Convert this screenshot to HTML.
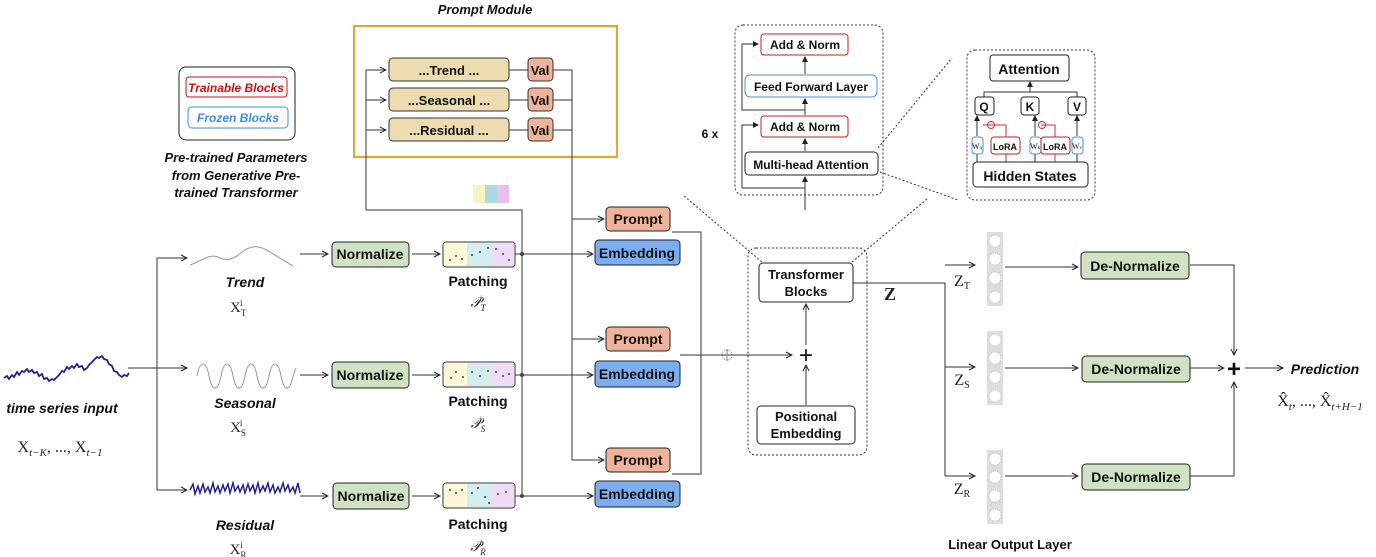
<!DOCTYPE html>
<html><head><meta charset="utf-8"><style>
html,body{margin:0;padding:0;background:#fff;}
svg{display:block;font-family:"Liberation Sans",sans-serif;}
.b{font-weight:bold;}
.s{font-family:"Liberation Serif",serif;}
</style></head><body>
<svg width="1376" height="557" viewBox="0 0 1376 557" xmlns="http://www.w3.org/2000/svg">
<defs>
<marker id="a" markerWidth="8" markerHeight="8" refX="7" refY="4" orient="auto" markerUnits="userSpaceOnUse"><path d="M1,1 L7,4 L1,7" fill="none" stroke="#222" stroke-width="1"/></marker>
<marker id="f" markerWidth="6" markerHeight="6" refX="5" refY="3" orient="auto" markerUnits="userSpaceOnUse"><path d="M0,0 L6,3 L0,6z" fill="#222"/></marker>
</defs>
<g stroke="#333" stroke-width="1" fill="none">
<rect x="354" y="26" width="263" height="131" stroke="#f0a030" stroke-width="2"/>
<path d="M366,210 V70 M366,70 H386" marker-end="url(#a)"/>
<path d="M366,100 H386" marker-end="url(#a)"/><path d="M366,130 H386" marker-end="url(#a)"/>
<path d="M366,210 H522 V496"/>
<path d="M509,70 H528 M509,100 H528 M509,130 H528 M553,70 H572 M553,100 H572 M553,130 H572 M572,70 V460"/>
<path d="M572,219 H604" marker-end="url(#a)"/>
<path d="M572,339 H604" marker-end="url(#a)"/>
<path d="M572,460 H604" marker-end="url(#a)"/>
<path d="M128,368 H187" marker-end="url(#a)"/>
<path d="M186,258 H157 V490 H187" /><path d="M157,258 H187" marker-end="url(#a)"/><path d="M157,490 H187" marker-end="url(#a)"/>
<path d="M300,254 H328" marker-end="url(#a)"/><path d="M300,375 H328" marker-end="url(#a)"/><path d="M300,496 H328" marker-end="url(#a)"/>
<path d="M412,254 H440" marker-end="url(#a)"/><path d="M412,375 H440" marker-end="url(#a)"/><path d="M412,496 H440" marker-end="url(#a)"/>
<path d="M515,254 H593" marker-end="url(#a)"/><path d="M515,375 H593" marker-end="url(#a)"/><path d="M515,496 H593" marker-end="url(#a)"/>
<path d="M672,232 H701 V474 H672 M680,355 H701"/>
<path d="M680,355 H792" marker-end="url(#a)"/>
<circle cx="727" cy="355" r="5" stroke="#888" stroke-dasharray="1,1"/><path d="M727,349 V361" stroke="#888"/>
<path d="M806,405 V365" marker-end="url(#a)"/>
<path d="M806,345 V304" marker-end="url(#a)"/>
<rect x="748" y="248" width="119" height="207" rx="8" stroke-dasharray="2,2"/>
<path d="M684,196 L762,262 M927,199 L852,262" stroke-dasharray="2,2"/>
<path d="M853,283 H945 V476" />
<path d="M945,265 H975" marker-end="url(#a)"/><path d="M945,367 H975" marker-end="url(#a)"/><path d="M945,476 H975" marker-end="url(#a)"/>
<path d="M1005,267 H1078" marker-end="url(#a)"/><path d="M1005,368 H1078" marker-end="url(#a)"/><path d="M1005,476 H1078" marker-end="url(#a)"/>
<path d="M1190,265 H1234 V355" marker-end="url(#a)"/>
<path d="M1190,476 H1234 V382" marker-end="url(#a)"/>
<path d="M1190,368 H1224" marker-end="url(#a)"/>
<path d="M1245,368 H1283" marker-end="url(#a)"/>
<rect x="735" y="25" width="148" height="170" rx="8" stroke-dasharray="2,2"/>
<path d="M805,210 V177" marker-end="url(#f)"/>
<path d="M805,151 V139" marker-end="url(#f)"/>
<path d="M805,115 V99" marker-end="url(#f)"/>
<path d="M805,74 V57" marker-end="url(#f)"/>
<path d="M805,188 H742 V125 H758" marker-end="url(#f)"/>
<path d="M805,110 H742 V44 H758" marker-end="url(#f)"/>
<path d="M878,148 L952,58 M880,172 L958,200" stroke-dasharray="2,2"/>
<rect x="967" y="50" width="128" height="150" rx="8" stroke-dasharray="2,2"/>
<path d="M984,97 V92 H1077 V97" />
<path d="M1030,92 V82" marker-end="url(#f)"/>
<path d="M977,136 V116" marker-end="url(#f)"/>
<path d="M1035,136 V116" marker-end="url(#f)"/>
<path d="M1077,136 V116" marker-end="url(#f)"/>
<path d="M977,162 V154 M1035,162 V154 M1077,162 V154"/>
<g stroke="#d03030"><path d="M1006,162 V154 M1006,137 V125 H983 M1055,162 V154 M1055,137 V125 H1041"/>
<circle cx="991" cy="125" r="3.5"/><circle cx="1042" cy="125" r="3.5"/></g>
</g>
<rect x="179" y="67" width="116" height="73" rx="7" fill="none" stroke="#222"/>
<rect x="186" y="77" width="101" height="20" rx="3" fill="none" stroke="#d01010"/>
<text x="236" y="92" text-anchor="middle" font-size="12" font-style="italic" class="b" fill="#d01010">Trainable Blocks</text>
<rect x="188" y="107" width="100" height="21" rx="4" fill="none" stroke="#3c8ee8"/>
<text x="238" y="122" text-anchor="middle" font-size="12" font-style="italic" class="b" fill="#3c8ee8">Frozen Blocks</text>
<g font-size="13" font-style="italic" class="b" text-anchor="middle" fill="#111">
<text x="236" y="162">Pre-trained Parameters</text>
<text x="236" y="180">from Generative Pre-</text>
<text x="236" y="197">trained Transformer</text>
<text x="485" y="14">Prompt Module</text>
</g>
<rect x="473" y="185" width="12" height="18" fill="#f8f4c0"/><rect x="485" y="185" width="12" height="18" fill="#a8dce0"/><rect x="497" y="185" width="12" height="18" fill="#e8c0f0"/>
<g font-size="13" class="b" text-anchor="middle" fill="#111">
<rect x="389" y="58" width="120" height="23" rx="4" fill="#ecdcb0" stroke="#333"/><text x="449" y="75">...Trend ...</text>
<rect x="389" y="88" width="120" height="23" rx="4" fill="#ecdcb0" stroke="#333"/><text x="449" y="105">...Seasonal ...</text>
<rect x="389" y="118" width="120" height="23" rx="4" fill="#ecdcb0" stroke="#333"/><text x="449" y="135">...Residual ...</text>
<rect x="528" y="58" width="25" height="23" rx="4" fill="#eeb39a" stroke="#333"/><text x="540" y="75">Val</text>
<rect x="528" y="88" width="25" height="23" rx="4" fill="#eeb39a" stroke="#333"/><text x="540" y="105">Val</text>
<rect x="528" y="118" width="25" height="23" rx="4" fill="#eeb39a" stroke="#333"/><text x="540" y="135">Val</text>
</g>
<g font-size="14" class="b" text-anchor="middle" fill="#111">
<rect x="332" y="242" width="77" height="25" rx="4" fill="#cfe3c4" stroke="#222"/><text x="370" y="259">Normalize</text>
<rect x="332" y="362" width="77" height="26" rx="4" fill="#cfe3c4" stroke="#222"/><text x="370" y="380">Normalize</text>
<rect x="333" y="483" width="76" height="26" rx="4" fill="#cfe3c4" stroke="#222"/><text x="371" y="501">Normalize</text>
<rect x="606" y="207" width="64" height="24" rx="4" fill="#eeb39a" stroke="#222"/><text x="638" y="224">Prompt</text>
<rect x="606" y="327" width="64" height="24" rx="4" fill="#eeb39a" stroke="#222"/><text x="638" y="344">Prompt</text>
<rect x="606" y="448" width="64" height="24" rx="4" fill="#eeb39a" stroke="#222"/><text x="638" y="465">Prompt</text>
<rect x="595" y="240" width="85" height="25" rx="4" fill="#7aaef0" stroke="#222"/><text x="637" y="258">Embedding</text>
<rect x="595" y="361" width="85" height="26" rx="4" fill="#7aaef0" stroke="#222"/><text x="637" y="379">Embedding</text>
<rect x="595" y="481" width="85" height="26" rx="4" fill="#7aaef0" stroke="#222"/><text x="637" y="499">Embedding</text>
<rect x="1081" y="252" width="108" height="27" rx="4" fill="#cfe3c4" stroke="#222"/><text x="1135" y="271">De-Normalize</text>
<rect x="1082" y="356" width="108" height="26" rx="4" fill="#cfe3c4" stroke="#222"/><text x="1136" y="374">De-Normalize</text>
<rect x="1082" y="464" width="108" height="26" rx="4" fill="#cfe3c4" stroke="#222"/><text x="1136" y="482">De-Normalize</text>
</g>
<g id="pt">
<rect x="443" y="242" width="72" height="25" rx="3" fill="#fff" stroke="#333"/>
<rect x="444" y="243" width="23" height="23" fill="#fbf7d8"/><rect x="467" y="243" width="24" height="23" fill="#d4eef0"/><rect x="491" y="243" width="23" height="23" fill="#f0dcf6"/>
</g>
<use href="#pt" y="120"/><use href="#pt" y="241"/>
<g fill="#444"><circle cx="450" cy="260" r="1"/><circle cx="456" cy="256" r="1"/><circle cx="462" cy="259" r="1"/><circle cx="472" cy="255" r="1"/><circle cx="480" cy="252" r="1"/><circle cx="488" cy="248" r="1"/><circle cx="496" cy="249" r="1"/><circle cx="503" cy="254" r="1"/><circle cx="509" cy="260" r="1"/>
<circle cx="451" cy="378" r="1"/><circle cx="456" cy="372" r="1"/><circle cx="463" cy="377" r="1"/><circle cx="472" cy="372" r="1"/><circle cx="480" cy="376" r="1"/><circle cx="488" cy="371" r="1"/><circle cx="496" cy="372" r="1"/><circle cx="503" cy="376" r="1"/><circle cx="509" cy="374" r="1"/>
<circle cx="450" cy="490" r="1"/><circle cx="456" cy="493" r="1"/><circle cx="462" cy="490" r="1"/><circle cx="472" cy="493" r="1"/><circle cx="478" cy="488" r="1"/><circle cx="485" cy="497" r="1"/><circle cx="489" cy="503" r="1"/><circle cx="498" cy="494" r="1"/><circle cx="506" cy="492" r="1"/>
<circle cx="522" cy="254" r="2"/><circle cx="522" cy="375" r="2"/><circle cx="522" cy="496" r="2"/></g>
<g font-size="14" class="b" text-anchor="middle" fill="#111">
<text x="478" y="286">Patching</text><text x="478" y="406">Patching</text><text x="478" y="529">Patching</text>
</g>
<g font-size="14" font-style="italic" class="b" text-anchor="middle" fill="#111">
<text x="245" y="287">Trend</text><text x="245" y="408">Seasonal</text><text x="245" y="530">Residual</text>
<text x="62" y="413">time series input</text>
<text x="1325" y="374">Prediction</text>
</g>
<g class="s" font-size="15" fill="#222" text-anchor="middle">
<text x="238" y="312">X<tspan font-size="9" dy="4">T</tspan><tspan font-size="9" dx="-6" dy="-10">i</tspan></text>
<text x="238" y="432">X<tspan font-size="9" dy="4">S</tspan><tspan font-size="9" dx="-6" dy="-10">i</tspan></text>
<text x="238" y="554">X<tspan font-size="9" dy="4">R</tspan><tspan font-size="9" dx="-6" dy="-10">i</tspan></text>
<text x="478" y="307" font-style="italic" font-size="14">𝒫<tspan font-size="9" dy="4">T</tspan><tspan font-size="8" dx="-6" dy="-10">i</tspan></text>
<text x="478" y="428" font-style="italic" font-size="14">𝒫<tspan font-size="9" dy="4">S</tspan><tspan font-size="8" dx="-6" dy="-10">i</tspan></text>
<text x="478" y="551" font-style="italic" font-size="14">𝒫<tspan font-size="9" dy="4">R</tspan><tspan font-size="8" dx="-6" dy="-10">i</tspan></text>
<text x="60" y="452" font-size="16">X<tspan font-size="11" font-style="italic" dy="4">t−K</tspan><tspan dy="-4">, ..., X</tspan><tspan font-size="11" font-style="italic" dy="4">t−1</tspan></text>
<text x="1320" y="406" font-size="16">X̂<tspan font-size="11" font-style="italic" dy="4">t</tspan><tspan dy="-4">, ..., X̂</tspan><tspan font-size="11" font-style="italic" dy="4">t+H−1</tspan></text>
<text x="890" y="300" font-size="18" font-weight="bold">Z</text>
<text x="962" y="286" font-size="16">Z<tspan font-size="10" dy="3">T</tspan></text>
<text x="962" y="385" font-size="16">Z<tspan font-size="10" dy="3">S</tspan></text>
<text x="962" y="494" font-size="16">Z<tspan font-size="10" dy="3">R</tspan></text>
</g>
<path d="M4,378 l3,-2 2,3 3,-4 2,2 3,-5 2,3 3,-4 2,1 3,-3 2,3 3,-2 2,3 3,-1 2,4 3,-2 2,5 3,-1 2,3 3,-2 2,1 3,-3 2,-2 3,-4 2,1 3,-5 2,2 3,-3 2,2 3,-4 2,3 3,-1 2,4 3,-2 2,-3 3,-3 2,-2 3,-3 2,1 3,-2 2,3 3,1 2,4 3,2 2,5 3,1 2,3 3,2 2,-2 3,1 2,-3" fill="none" stroke="#22228a" stroke-width="1.8"/>
<path d="M190,265 C200,262 210,252 220,258 C228,262 235,258 242,252 C250,246 258,244 270,252 C280,258 286,262 293,266" fill="none" stroke="#8c8cd0" stroke-width="1"/>
<path d="M197,376 C200,360 206,360 209,376 C212,392 218,392 221,376 C224,360 230,360 233,376 C236,392 242,392 245,376 C248,360 254,360 257,376 C260,392 266,392 269,376 C272,360 278,360 281,376 C284,392 290,392 293,376 L296,368" fill="none" stroke="#9090cc" stroke-width="1"/>
<path d="M190,490 l3,-6 2,10 3,-8 2,7 3,-9 2,8 3,-5 2,6 3,-10 2,9 3,-6 2,7 3,-8 2,6 3,-7 2,9 3,-10 2,8 3,-5 2,6 3,-7 2,8 3,-9 2,7 3,-6 2,8 3,-10 2,9 3,-6 2,5 3,-8 2,9 3,-7 2,8 3,-6 2,5 3,-9 2,8 3,-6 2,7 3,-5 2,6 3,-10 2,10" fill="none" stroke="#22228a" stroke-width="1.5"/>
<g font-size="13" class="b" text-anchor="middle" fill="#111">
<rect x="759" y="263" width="94" height="39" rx="4" fill="#fff" stroke="#222"/><text x="806" y="279">Transformer</text><text x="806" y="296">Blocks</text>
<rect x="757" y="406" width="98" height="38" rx="4" fill="#fff" stroke="#222"/><text x="806" y="421">Positional</text><text x="806" y="438">Embedding</text>
<rect x="761" y="34" width="87" height="21" rx="3" fill="#fff" stroke="#c02020"/><text x="805" y="49" font-size="12">Add &amp; Norm</text>
<rect x="745" y="75" width="132" height="22" rx="5" fill="#fff" stroke="#4a90e0"/><text x="811" y="91" font-size="12">Feed Forward Layer</text>
<rect x="761" y="116" width="87" height="21" rx="3" fill="#fff" stroke="#c02020"/><text x="805" y="131" font-size="12">Add &amp; Norm</text>
<rect x="745" y="152" width="133" height="23" rx="4" fill="#fff" stroke="#222"/><text x="811" y="169" font-size="12">Multi-head Attention</text>
<text x="710" y="138" font-size="12">6 x</text>
<rect x="990" y="55" width="79" height="26" rx="3" fill="#fff" stroke="#222"/><text x="1029" y="74" font-size="14">Attention</text>
<rect x="975" y="97" width="19" height="18" rx="3" fill="#fff" stroke="#222"/><text x="984" y="111" font-size="12">Q</text>
<rect x="1021" y="97" width="18" height="18" rx="3" fill="#fff" stroke="#222"/><text x="1030" y="111" font-size="12">K</text>
<rect x="1068" y="97" width="18" height="18" rx="3" fill="#fff" stroke="#222"/><text x="1077" y="111" font-size="12">V</text>
<rect x="972" y="137" width="11" height="17" rx="3" fill="#fff" stroke="#4a90e0"/><text x="977" y="149" font-size="8" font-weight="normal" class="s">W<tspan font-size="5">q</tspan></text>
<rect x="991" y="137" width="29" height="17" rx="3" fill="#fff" stroke="#c02020"/><text x="1005" y="150" font-size="9">LoRA</text>
<rect x="1030" y="137" width="11" height="17" rx="3" fill="#fff" stroke="#4a90e0"/><text x="1035" y="149" font-size="8" font-weight="normal" class="s">W<tspan font-size="5">k</tspan></text>
<rect x="1041" y="137" width="29" height="17" rx="3" fill="#fff" stroke="#c02020"/><text x="1055" y="150" font-size="9">LoRA</text>
<rect x="1072" y="137" width="11" height="17" rx="3" fill="#fff" stroke="#4a90e0"/><text x="1077" y="149" font-size="8" font-weight="normal" class="s">W<tspan font-size="5">v</tspan></text>
<rect x="973" y="162" width="115" height="25" rx="4" fill="#fff" stroke="#222"/><text x="1030" y="181" font-size="14">Hidden States</text>
<text x="1010" y="549" font-size="13">Linear Output Layer</text>
</g>
<text x="806" y="363" font-size="24" text-anchor="middle" fill="#111">+</text>
<text x="1234" y="377" font-size="24" text-anchor="middle" fill="#111" class="b">+</text>
<g id="col"><rect x="987" y="232" width="16" height="74" fill="#ddd"/>
<g fill="#fff" stroke="#bbb" stroke-dasharray="1,1"><circle cx="995" cy="241" r="6"/><circle cx="995" cy="259" r="6"/><circle cx="995" cy="278" r="6"/><circle cx="995" cy="297" r="6"/></g></g>
<use href="#col" y="99"/><use href="#col" y="218"/>
</svg>
</body></html>
